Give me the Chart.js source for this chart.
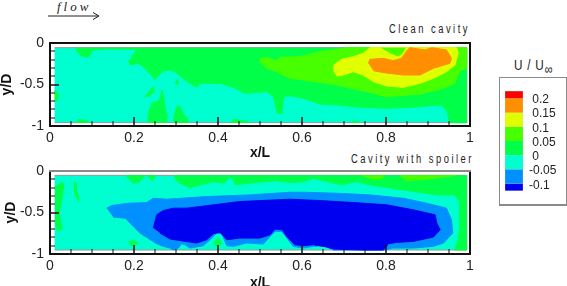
<!DOCTYPE html>
<html>
<head>
<meta charset="utf-8">
<script src="https://cdn.jsdelivr.net/npm/chart.js@4"></script>
<style>
html, body { margin: 0; padding: 0; background: #fff; }
#page { position: relative; width: 567px; height: 286px; overflow: hidden; }
#page canvas { position: absolute; }
.cap { position: absolute; white-space: nowrap; color: #222; font-family: "Liberation Sans", sans-serif; transform-origin: left top; }
#legendBox { position: absolute; left: 499px; top: 77px; width: 66px; height: 126px; border: 1px solid #8a8a8a; border-bottom-width: 2px; }
</style>
</head>
<body>
<div id="page">
  <div class="cap" style="left:57px;top:-1px;font:italic 13px 'Liberation Serif';letter-spacing:3px">flow</div>
  <svg style="position:absolute;left:46px;top:11px" width="56" height="10"><path d="M2 5H52M47 1.5L53 5L47 8.5" fill="none" stroke="#222" stroke-width="1"/></svg>
  <div class="cap" style="left:389px;top:22px;font-size:12px;letter-spacing:3.2px;transform:scaleX(.78)">Clean cavity</div>
  <div class="cap" style="left:351px;top:152px;font-size:12px;letter-spacing:3.2px;transform:scaleX(.78)">Cavity with spoiler</div>
  <div class="cap" style="left:514px;top:56px;font-size:15px;letter-spacing:1px;transform:scaleX(.78)">U / U<sub style="font-size:14px;line-height:0">∞</sub></div>
  <div id="legendBox"></div>
  <canvas id="cleanChart" width="490" height="160" style="left:0;top:0"></canvas>
  <canvas id="spoilerChart" width="490" height="146" style="left:0;top:140px"></canvas>
  <canvas id="legendChart" width="68" height="127" style="left:499px;top:77px"></canvas>
</div>
<script>
const xTickLabels = ['0', '0.2', '0.4', '0.6', '0.8', '1'];
const yTickLabels = ['0', '-0.5', '-1'];
const levelLabels = ['0.2', '0.15', '0.1', '0.05', '0', '-0.05', '-0.1'];
const levels = [0.2, 0.15, 0.1, 0.05, 0, -0.05, -0.1];
const bands = [[0.2, 0.225], [0.15, 0.2], [0.1, 0.15], [0.05, 0.1], [0, 0.05], [-0.05, 0], [-0.1, -0.05], [-0.125, -0.1]];

const RED = '#ff0000', ORANGE = '#ff8f00', YELLOW = '#e0ff00', LIME = '#48ff00',
      GREEN = '#00ff48', CYAN = '#00ffd0', BLUE = '#0090ff', DARK = '#0000f0';
const bandColors = [RED, ORANGE, YELLOW, LIME, GREEN, CYAN, BLUE, DARK];

// contour regions of the clean cavity, [x/L, y/D], painted back to front
const cleanBase = [[.011,-.056],[.992,-.056],[.992,-.96],[.011,-.96]];
const cleanGreenMain = [[.206,-.056],[.206,-.084],[.187,-.225],[.192,-.265],[.21,-.245],[.222,-.285],[.25,-.438],[.27,-.333],[.286,-.325],[.298,-.345],[.321,-.446],[.349,-.534],[.357,-.486],[.405,-.486],[.437,-.534],[.464,-.606],[.516,-.586],[.532,-.647],[.541,-.847],[.552,-.847],[.556,-.647],[.571,-.635],[.603,-.667],[.643,-.735],[.683,-.747],[.738,-.775],[.802,-.787],[.857,-.775],[.929,-.747],[.944,-.807],[.952,-.96],[.992,-.96],[.992,-.056]];
const cleanGreenA = [[.06,-.056],[.065,-.104],[.075,-.157],[.091,-.173],[.102,-.084],[.135,-.072],[.206,-.076],[.206,-.056]];
const cleanGreenB = [[.233,-.96],[.234,-.847],[.242,-.727],[.26,-.695],[.267,-.566],[.27,-.647],[.274,-.787],[.279,-.867],[.278,-.96]];
const cleanGreenC = [[.294,-.96],[.295,-.888],[.302,-.767],[.31,-.767],[.316,-.847],[.327,-.908],[.329,-.96]];
const cleanGreenD = [[.226,-.647],[.246,-.526],[.248,-.586],[.234,-.647]];
const cleanGreenE = [[.298,-.486],[.304,-.438],[.304,-.506]];
const cleanGreenF = [[.065,-.96],[.067,-.92],[.087,-.936],[.095,-.96]];
const cleanGreenG = [[.429,-.96],[.437,-.92],[.46,-.936],[.476,-.96]];
const cleanGreenH = [[.718,-.96],[.724,-.936],[.738,-.96]];
const cleanGreenI = [[.011,-.566],[.022,-.627],[.017,-.687],[.011,-.707]];
const cleanLime = [[.5,-.185],[.516,-.173],[.54,-.213],[.548,-.173],[.595,-.165],[.643,-.104],[.71,-.056],[.992,-.056],[.992,-.305],[.976,-.333],[.964,-.486],[.937,-.546],[.881,-.614],[.802,-.647],[.754,-.586],[.683,-.506],[.603,-.446],[.571,-.426],[.54,-.345],[.516,-.305],[.5,-.225]];
const cleanYellow = [[.675,-.345],[.676,-.265],[.694,-.197],[.722,-.165],[.746,-.124],[.762,-.056],[.968,-.056],[.972,-.124],[.964,-.265],[.944,-.345],[.913,-.426],[.881,-.486],[.841,-.534],[.802,-.518],[.77,-.466],[.746,-.386],[.722,-.345],[.698,-.386],[.683,-.398]];
const cleanNotch = [[.79,-.056],[.81,-.116],[.829,-.157],[.84,-.116],[.845,-.056]];
const cleanOrange = [[.758,-.245],[.762,-.197],[.794,-.185],[.817,-.213],[.837,-.185],[.851,-.084],[.857,-.056],[.893,-.084],[.909,-.056],[.944,-.084],[.956,-.185],[.952,-.245],[.913,-.305],[.881,-.386],[.841,-.386],[.794,-.357],[.77,-.333]];

// contour regions of the cavity with spoiler
const spoilerBase = [[.011,-.052],[.992,-.052],[.992,-.952],[.011,-.952]];
const spoilerGreenMain = [[.294,-.052],[.306,-.14],[.333,-.2],[.389,-.128],[.413,-.148],[.429,-.076],[.437,-.1],[.44,-.168],[.484,-.14],[.54,-.116],[.571,-.14],[.603,-.128],[.627,-.088],[.659,-.128],[.694,-.168],[.73,-.128],[.762,-.168],[.841,-.228],[.921,-.288],[.964,-.288],[.975,-.368],[.976,-.668],[.972,-.828],[.964,-.952],[.992,-.952],[.992,-.052]];
const spoilerGreenA = [[.181,-.052],[.198,-.148],[.214,-.128],[.226,-.052]];
const spoilerGreenB = [[.23,-.052],[.244,-.116],[.252,-.052]];
const spoilerGreenC = [[.012,-.188],[.028,-.14],[.033,-.148],[.03,-.288],[.022,-.508],[.029,-.7],[.017,-.72],[.012,-.588]];
const spoilerGreenD = [[.056,-.14],[.063,-.148],[.062,-.228],[.067,-.288],[.068,-.368],[.062,-.308],[.057,-.228]];
const spoilerGreenE = [[.187,-.848],[.198,-.84],[.21,-.868],[.198,-.9],[.19,-.888]];
const spoilerGreenF = [[.389,-.868],[.401,-.808],[.409,-.868],[.401,-.908],[.393,-.9]];
const spoilerLimeA = [[.742,-.052],[.77,-.1],[.786,-.1],[.798,-.052]];
const spoilerLimeB = [[.833,-.052],[.849,-.116],[.897,-.1],[.944,-.068],[.968,-.052]];
const spoilerBlue = [[.135,-.448],[.147,-.416],[.187,-.388],[.23,-.38],[.246,-.328],[.278,-.34],[.373,-.308],[.476,-.288],[.571,-.256],[.603,-.256],[.683,-.268],[.762,-.288],[.841,-.328],[.897,-.388],[.944,-.448],[.956,-.588],[.959,-.748],[.937,-.868],[.913,-.908],[.865,-.928],[.817,-.928],[.794,-.952],[.675,-.952],[.651,-.9],[.627,-.908],[.603,-.928],[.579,-.908],[.567,-.828],[.552,-.728],[.536,-.728],[.524,-.788],[.508,-.88],[.468,-.868],[.437,-.908],[.421,-.9],[.409,-.756],[.397,-.748],[.381,-.828],[.365,-.9],[.333,-.928],[.321,-.888],[.313,-.876],[.306,-.928],[.294,-.952],[.286,-.928],[.27,-.908],[.254,-.876],[.214,-.748],[.179,-.568],[.151,-.556]];
const spoilerDark = [[.246,-.688],[.254,-.528],[.27,-.476],[.294,-.448],[.325,-.448],[.389,-.408],[.452,-.368],[.571,-.34],[.643,-.356],[.722,-.38],[.802,-.408],[.865,-.468],[.917,-.528],[.921,-.628],[.929,-.708],[.913,-.796],[.865,-.848],[.825,-.86],[.806,-.876],[.794,-.952],[.746,-.952],[.675,-.94],[.659,-.916],[.627,-.888],[.603,-.9],[.583,-.888],[.567,-.808],[.552,-.708],[.536,-.7],[.524,-.768],[.5,-.808],[.452,-.808],[.421,-.828],[.405,-.74],[.389,-.756],[.373,-.828],[.349,-.868],[.286,-.82],[.262,-.748]];

const cleanLayers = [
  [cleanBase, CYAN], [cleanGreenMain, GREEN], [cleanGreenA, GREEN], [cleanGreenB, GREEN], [cleanGreenC, GREEN],
  [cleanGreenD, GREEN], [cleanGreenE, GREEN], [cleanGreenF, GREEN], [cleanGreenG, GREEN], [cleanGreenH, GREEN],
  [cleanGreenI, GREEN], [cleanLime, LIME], [cleanYellow, YELLOW], [cleanNotch, LIME], [cleanOrange, ORANGE]
];
const spoilerLayers = [
  [spoilerBase, CYAN], [spoilerGreenMain, GREEN], [spoilerGreenA, GREEN], [spoilerGreenB, GREEN], [spoilerGreenC, GREEN],
  [spoilerGreenD, GREEN], [spoilerGreenE, GREEN], [spoilerGreenF, GREEN], [spoilerLimeA, LIME], [spoilerLimeB, LIME],
  [spoilerBlue, BLUE], [spoilerDark, DARK]
];

const tickFont = { family: 'Liberation Sans', size: 14 };
const titleFont = { family: 'Liberation Sans', size: 14, weight: 'bold', lineHeight: 1 };

// ticks point inwards and the frame sits on top of the contours
const framePlugin = {
  id: 'frame',
  afterDatasetsDraw(chart, args, opts) {
    const { ctx, chartArea: a, scales } = chart;
    ctx.save();
    ctx.strokeStyle = '#111';
    scales.x.ticks.forEach(t => {
      const px = Math.round(scales.x.getPixelForValue(t.value));
      const major = xTickLabels.includes(String(+t.value.toFixed(2)));
      ctx.lineWidth = major ? 1.5 : 1;
      ctx.beginPath(); ctx.moveTo(px, a.bottom); ctx.lineTo(px, a.bottom - (major ? 9 : 5)); ctx.stroke();
    });
    scales.y.ticks.forEach(t => {
      const py = Math.round(scales.y.getPixelForValue(t.value));
      const major = yTickLabels.includes(String(+t.value.toFixed(2)));
      ctx.lineWidth = major ? 1.5 : 1;
      ctx.beginPath(); ctx.moveTo(a.left, py); ctx.lineTo(a.left + (major ? 9 : 5), py); ctx.stroke();
    });
    ctx.lineWidth = 2;
    ctx.beginPath();
    ctx.moveTo(a.left, a.top); ctx.lineTo(a.left, a.bottom); ctx.lineTo(a.right, a.bottom); ctx.lineTo(a.right, a.top);
    ctx.stroke();
    ctx.strokeStyle = opts.topColor;
    ctx.beginPath(); ctx.moveTo(a.left - 1, a.top); ctx.lineTo(a.right + 1, a.top); ctx.stroke();
    ctx.restore();
  }
};

function contourChart(id, layers, padTop, xHeight, topColor, yTitlePad, xTitleBottom) {
  return new Chart(document.getElementById(id), {
    type: 'scatter',
    data: {
      datasets: layers.map(([pts, color], i) => ({
        data: pts.map(([x, y]) => ({ x, y })),
        showLine: true,
        fill: 'shape',
        tension: 0,
        backgroundColor: color,
        borderColor: i === 0 ? '#8c9c9c' : color,
        borderWidth: 1,
        pointRadius: 0,
        order: layers.length - i
      }))
    },
    plugins: [framePlugin],
    options: {
      responsive: false,
      animation: false,
      layout: { padding: { top: padTop, right: 20 } },
      plugins: { legend: { display: false }, tooltip: { enabled: false }, frame: { topColor } },
      scales: {
        x: {
          min: 0, max: 1,
          afterFit(s) { s.height = xHeight; },
          grid: { display: false, drawTicks: false },
          border: { display: false },
          title: { display: true, text: 'x/L', color: '#111', font: titleFont, padding: { top: 0, bottom: xTitleBottom } },
          ticks: {
            stepSize: 0.05, autoSkip: false, maxRotation: 0, padding: 4, color: '#222', font: tickFont,
            callback(v) { const s = String(+(+v).toFixed(2)); return xTickLabels.includes(s) ? s : ''; }
          }
        },
        y: {
          min: -1, max: 0,
          afterFit(s) { s.width = 50; },
          grid: { display: false, drawTicks: false },
          border: { display: false },
          title: { display: true, text: 'y/D', color: '#111', font: titleFont, padding: { top: yTitlePad, bottom: 0 } },
          ticks: {
            stepSize: 0.1, autoSkip: false, padding: 6, color: '#222', font: tickFont,
            callback(v) { const s = String(+(+v).toFixed(2)); return yTickLabels.includes(s) ? s : ''; }
          }
        }
      }
    }
  });
}

contourChart('cleanChart', cleanLayers, 43, 34, '#111', 0, 0);
contourChart('spoilerChart', spoilerLayers, 31, 32, '#8a8a8a', 4, -4);

new Chart(document.getElementById('legendChart'), {
  type: 'bar',
  data: {
    labels: ['U / U∞'],
    datasets: bands.map((b, i) => ({
      data: [b],
      backgroundColor: bandColors[i],
      borderColor: 'rgba(0,0,0,0.25)',
      borderWidth: 0.5,
      barPercentage: 1,
      categoryPercentage: 1
    }))
  },
  options: {
    responsive: false,
    animation: false,
    layout: { padding: { top: 14, bottom: 10, left: 6 } },
    plugins: { legend: { display: false }, tooltip: { enabled: false } },
    scales: {
      x: { stacked: true, display: false },
      y: {
        position: 'right',
        min: -0.125, max: 0.225,
        afterFit(s) { s.width = 44; },
        // the labels sit a little under their band edge, as in the original legend
        afterBuildTicks(s) { s.ticks = levels.map(value => ({ value: value - 0.006 })); },
        grid: { display: false, drawTicks: false },
        border: { display: false },
        ticks: {
          autoSkip: false, padding: 6, color: '#222', font: { family: 'Liberation Sans', size: 12 },
          callback(v, i) { return levels[i] < 0 ? levelLabels[i] : ' ' + levelLabels[i]; }
        }
      }
    }
  }
});
</script>
</body>
</html>
